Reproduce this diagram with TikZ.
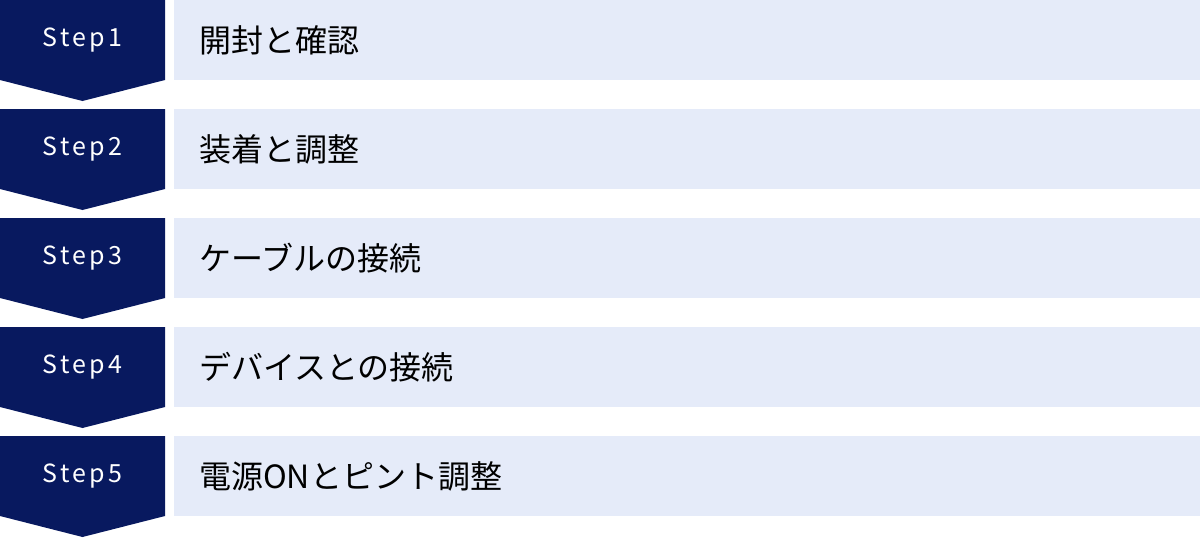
\documentclass[tikz,border=0pt]{standalone}
\usepackage{fontspec}
\setmainfont{Noto Sans CJK JP}
\newfontfamily\stepfont[LetterSpace=13]{Noto Sans CJK JP}
\definecolor{navy}{HTML}{08195F}
\definecolor{pale}{HTML}{E5EBF9}
\begin{document}
\begin{tikzpicture}[x=1pt,y=-1pt,
  steplabel/.style={text=white,font=\stepfont\fontsize{25}{25}\selectfont,anchor=center,inner sep=0pt},
  itemlabel/.style={text=black,font=\fontsize{32}{32}\selectfont,anchor=west,inner sep=0pt}]
\useasboundingbox (0,0) rectangle (1200,538);
\foreach \i/\t in {1/開封と確認,2/装着と調整,3/ケーブルの接続,4/デバイスとの接続,5/電源ONとピント調整}{
  \pgfmathsetmacro{\y}{(\i-1)*109}
  \fill[navy] (0,\y) -- (165,\y) -- (165,\y+80) -- (82.5,\y+101) -- (0,\y+80) -- cycle;
  \fill[pale] (174,\y) rectangle (1200,\y+80);
  \node[steplabel] (s\i) at (82.5,\y+40) {Step\i};
  \node[itemlabel] (t\i) at (199,\y+40) {\t};
}
\end{tikzpicture}
\end{document}
